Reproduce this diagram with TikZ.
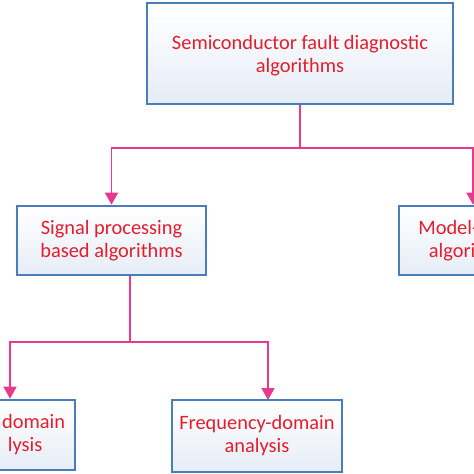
\documentclass[tikz,border=0pt]{standalone}
\usepackage{fontspec}
\setmainfont{Carlito}
\usetikzlibrary{arrows.meta}
\definecolor{boxblue}{RGB}{74,126,187}
\definecolor{boxfill}{RGB}{230,237,247}
\definecolor{textred}{RGB}{228,30,45}
\definecolor{linkpink}{RGB}{233,57,143}
\newcommand{\drawbox}{\node[algbox]}
\newcommand{\drawdummy}{\node[minimum size=0,inner sep=0]}

\begin{document}
\begin{tikzpicture}[x=1pt,y=-1pt,
  algbox/.style={draw=boxblue, line width=2.6pt, rectangle, top color=white, bottom color=boxfill,
    text=textred, align=center, inner sep=0, font=\fontsize{20.4pt}{23pt}\selectfont},
  link/.style={draw=linkpink, line width=1.6pt},
  >={Triangle[width=13pt,length=12pt]}]
\useasboundingbox (0,0) rectangle (474,474);
\clip (0,0) rectangle (474,474);

%top level
\drawbox[minimum width=306, minimum height=101] (top) at (300,53.5) {\rule{0pt}{19pt}Semiconductor fault diagnostic\\algorithms};
\drawdummy (topFork) at (300,148) {};

%second level
\drawbox[minimum width=189, minimum height=69] (signal) at (111.5,240.5) {Signal processing\\based algorithms};
\drawbox[minimum width=148, minimum height=69] (model) at (473,240.5) {Model-\phantom{based}\\algori\phantom{thms}};
\drawdummy (signalFork) at (130,342) {};

%third level
\drawbox[minimum width=130, minimum height=70] (time) at (10,435) {\phantom{Time-}domain\\\phantom{ana}lysis};
\drawbox[minimum width=170, minimum height=72] (freq) at (257,436) {Frequency-domain\\analysis};
\drawdummy (freqIn) at (268,400) {};

\draw[link] (top) to (topFork.center);
\draw[link,->] (topFork.center) -| (signal);
\draw[link,->] (topFork.center) -| (model);

\draw[link] (signal.south -| signalFork) to (signalFork.center);
\draw[link,->] (signalFork.center) -| (time);
\draw[link,->] (signalFork.center) -| (freqIn.center);

\end{tikzpicture}
\end{document}
